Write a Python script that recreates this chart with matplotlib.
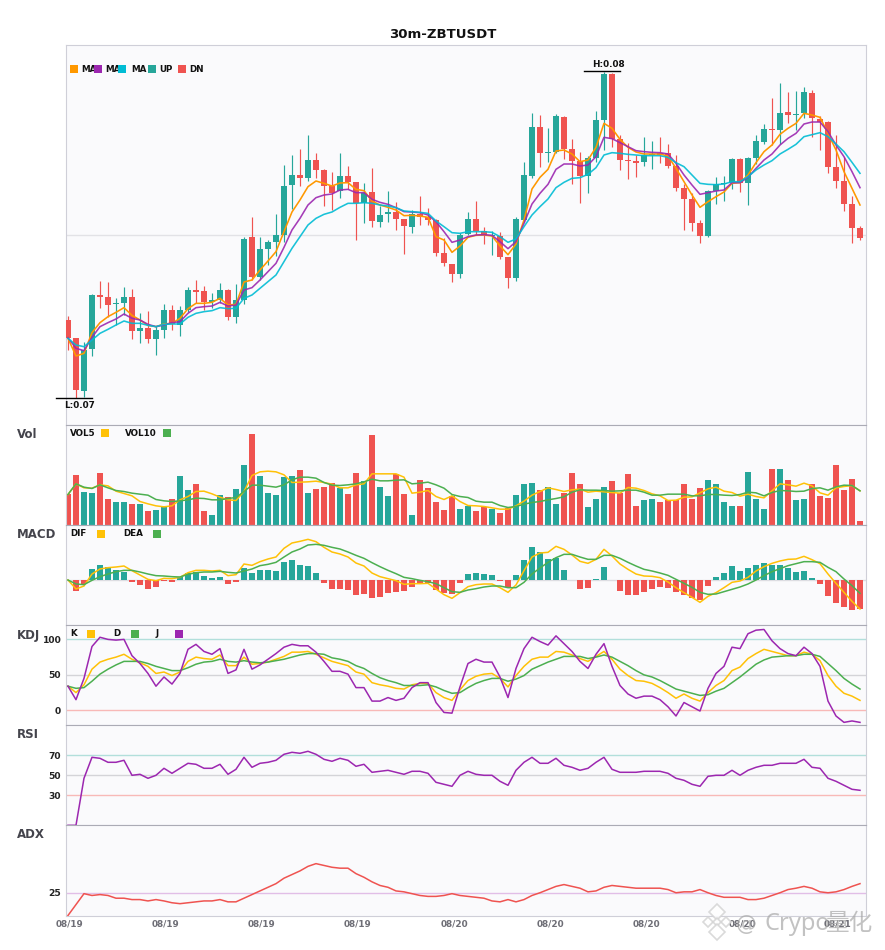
import matplotlib
matplotlib.use('Agg')
import matplotlib.pyplot as plt
from matplotlib.patches import Rectangle, Polygon
import numpy as np

# prices are kept in points above 0.07, 975 points = 0.01
opens = [234,180,22,148,309,303,282,285,303,201,210,177,204,264,219,264,324,321,288,294,324,243,294,483,363,447,468,489,639,669,660,714,684,636,621,666,648,585,618,528,552,558,537,513,552,543,534,435,402,372,
         492,537,501,486,486,423,360,534,666,813,735,738,843,747,711,666,720,834,972,777,714,711,708,729,735,735,696,630,597,525,486,621,642,645,717,645,720,768,807,804,858,849,855,915,837,828,693,651,582,510]
closes = [181,25,144,309,303,279,285,303,201,210,177,204,264,222,264,324,318,288,294,324,243,294,477,363,447,468,489,636,669,660,714,684,636,614,666,648,585,615,531,549,558,537,516,552,543,534,435,405,372,489,
          537,501,489,489,423,360,537,669,813,735,738,846,747,711,666,720,834,972,777,714,712,705,729,732,729,696,630,597,525,486,621,642,645,717,645,720,771,807,804,855,849,852,918,840,828,693,651,582,510,480]
highs = [246,180,167,312,351,348,300,333,327,255,261,216,282,278,276,333,354,336,315,345,327,342,483,543,483,474,552,699,729,747,789,735,687,678,735,696,648,645,690,576,621,588,537,564,606,570,537,480,402,494,
         558,591,513,501,498,423,543,708,855,849,810,852,846,777,738,726,861,978,975,789,765,729,783,771,783,762,729,642,615,534,624,663,666,720,720,723,789,822,900,945,918,921,933,924,846,831,789,723,606,516]
lows = [144,-1,4,127,271,244,219,249,177,166,166,130,181,205,187,259,284,264,269,284,234,225,282,354,354,399,426,468,567,636,651,660,576,564,600,627,474,525,513,513,528,504,432,495,519,519,426,396,348,360,
        489,489,462,429,417,330,351,528,660,693,708,735,717,642,585,615,708,744,753,684,657,663,696,687,705,690,621,504,501,465,483,582,591,627,618,579,702,762,759,762,825,804,840,783,744,675,630,561,465,474]

ma_fast = [179,126,134,196,226,244,257,271,248,234,218,214,222,224,239,268,284,284,287,299,279,281,348,354,384,411,439,499,558,594,634,651,644,636,645,646,626,622,591,579,572,564,547,548,546,542,484,474,437,456,482,
           488,489,486,456,430,462,534,627,662,686,741,744,732,709,714,752,824,809,776,752,738,732,732,732,726,689,649,609,572,589,604,618,644,646,669,706,739,759,791,809,824,854,849,842,794,744,679,629,579]
ma_mid = [181,149,142,182,214,226,237,252,239,234,221,214,219,226,229,254,271,274,276,287,276,279,324,331,354,379,404,452,504,539,579,601,609,612,624,626,616,616,596,587,581,571,559,558,556,549,529,499,467,474,484,
          489,490,488,469,448,469,524,582,614,641,686,702,702,696,699,724,782,778,766,754,742,739,737,736,732,704,669,639,611,616,621,624,646,646,662,689,714,732,759,779,794,822,828,828,799,759,724,679,631]
ma_slow = [179,159,154,174,194,206,219,231,224,224,218,214,221,222,222,242,254,259,262,271,268,269,299,309,329,349,369,409,449,484,519,539,551,558,572,584,584,586,584,579,576,571,561,559,557,554,531,514,496,494,499,
           499,499,497,484,467,477,514,549,574,597,631,647,659,661,671,691,729,736,734,731,729,727,727,727,722,706,694,669,644,641,640,642,649,649,664,684,699,712,732,746,761,784,790,796,784,762,739,707,674]

volume = [92,149,98,95,155,77,68,68,62,62,41,44,56,77,146,104,122,41,29,89,83,107,179,272,146,95,89,143,146,164,95,107,113,125,110,92,155,131,269,113,86,151,92,29,134,110,68,44,86,
          47,56,41,53,47,35,50,89,122,125,104,113,62,95,155,122,53,77,113,131,95,152,56,74,77,68,74,74,122,77,110,134,122,68,56,56,158,77,47,167,167,134,74,77,122,86,80,179,104,137,11]
vol5 = [90,122,110,109,119,116,100,93,86,69,62,56,53,56,74,84,99,100,92,82,74,72,99,147,158,160,158,149,126,127,128,130,126,121,110,110,119,122,152,152,152,152,142,94,97,102,84,75,86,
        69,57,56,54,50,46,46,56,70,88,99,110,105,99,104,106,97,100,98,96,94,111,109,102,92,86,72,73,82,83,95,107,112,100,96,85,91,84,80,101,122,119,115,124,116,95,88,110,114,117,101]
vol10 = [90,122,112,108,119,110,102,99,94,91,88,75,71,69,71,74,79,78,74,74,78,81,99,118,118,115,112,119,134,142,142,139,126,118,117,119,122,128,136,131,131,133,134,122,124,127,119,109,90,
         84,81,70,67,67,57,51,54,61,66,69,74,78,83,97,104,103,103,102,100,101,103,103,97,88,88,91,91,91,86,86,90,90,88,87,90,97,95,86,96,102,101,99,100,108,110,103,113,118,117,101]

macd_hist = [0,-33,-12,33,45,39,30,24,-6,-15,-27,-21,-3,-6,9,21,24,12,6,9,-12,-6,36,21,30,30,27,54,60,45,42,21,-9,-27,-27,-30,-45,-42,-54,-51,-39,-36,-33,-21,-9,-9,-30,-39,-42,
             -9,18,21,18,15,-3,-21,15,60,99,84,63,66,30,0,-27,-24,3,39,0,-33,-45,-45,-36,-27,-21,-24,-36,-45,-54,-60,-18,9,21,42,27,36,45,51,45,45,36,24,27,6,-12,-48,-69,-81,-90,-87]
dif = [0,-27,-18,18,33,37,39,42,28,15,2,-2,5,4,8,22,29,29,27,29,13,16,48,44,55,63,69,95,111,116,122,115,98,84,78,69,51,42,21,10,4,-2,-13,-11,-11,-10,-27,-44,-55,
       -38,-20,-14,-12,-12,-23,-37,-15,28,69,81,83,101,92,75,56,50,62,92,72,48,32,18,12,11,7,-6,-23,-38,-52,-67,-49,-38,-23,-7,-3,8,27,40,50,57,62,63,71,61,49,18,-10,-37,-64,-87]
dea = [0,-12,-14,-1,10,18,25,29,29,24,18,13,12,10,9,17,22,24,24,26,23,21,27,33,43,47,53,69,84,93,105,107,104,98,93,84,74,65,52,40,29,19,8,4,-1,-5,-11,-23,-35,
       -37,-30,-26,-21,-18,-18,-23,-23,-7,18,36,53,67,77,77,69,62,62,74,74,65,53,42,32,27,21,14,2,-10,-22,-37,-43,-42,-35,-28,-21,-12,0,13,25,34,43,49,55,55,53,38,25,3,-17,-40]

kdj_k = [34,25,36,58,68,72,75,79,72,67,62,52,54,49,54,69,75,73,72,78,63,63,75,65,66,68,72,76,82,82,83,79,74,69,66,63,54,51,39,36,34,31,30,36,38,38,25,18,14,
         29,42,48,51,52,45,33,49,62,72,75,75,83,82,78,73,69,76,83,72,58,49,42,41,38,32,25,17,23,17,13,25,35,42,56,61,73,80,86,83,80,77,77,82,79,70,49,34,24,20,14]
kdj_d = [34,31,32,41,51,58,64,69,69,69,66,62,59,56,56,60,65,68,69,72,69,68,70,68,67,68,70,72,75,78,80,80,79,74,72,69,63,59,52,46,42,39,35,35,35,36,33,28,24,
         25,32,38,42,45,45,41,44,49,58,63,68,72,76,76,76,73,75,78,75,69,63,56,50,47,42,36,30,27,24,21,22,27,31,39,47,56,65,71,75,76,77,77,79,79,76,66,56,45,37,30]
kdj_j = [34,15,45,90,103,100,99,100,77,66,52,34,47,37,52,86,93,83,79,87,52,57,86,58,64,72,80,89,93,91,91,82,69,55,55,51,32,32,13,13,18,14,17,32,39,39,11,-3,-4,
         33,66,72,68,68,47,18,59,87,103,97,92,105,94,83,69,59,79,94,62,35,23,17,20,20,15,5,-8,11,5,-1,31,52,62,89,87,108,113,114,98,87,80,77,89,80,62,13,-8,-17,-15,-17]

rsi = [0,0,47,68,67,63,63,65,50,51,47,50,57,52,57,62,61,57,57,61,51,56,68,58,62,63,65,71,73,72,74,71,66,64,67,65,59,61,53,54,55,53,51,54,54,52,43,41,39,
       50,54,51,50,50,44,40,55,63,68,62,62,67,60,58,55,57,63,68,56,53,53,53,54,54,54,52,47,45,41,39,49,50,50,55,50,55,58,60,60,62,62,62,66,58,57,47,44,40,36,35]

adx = [0,12,24,22,23,22,19,19,17.5,17.5,16,17.5,16,14,13,14,15,16,16,17.5,15,15,19,23,27,31,35,41,45,49,54,57,55,53,52,52,46,42,37,33,31,27,26,24,22,21,21,22,24,
       22,21,20,19,16,15,17.5,15,17.5,22,25,28.5,32,34,32,30,26,27,31,33,32,31,30,30,30,30,28.5,25,26,26,28.5,25,22,20,20,20,17.5,17.5,19,22,25,28.5,30,32,30,26,25,26,28.5,32,35]

time_labels = ['08/19', '08/19', '08/19', '08/19', '08/20', '08/20', '08/20', '08/20', '08/21']

UP = '#26A69A'
DN = '#EF5350'
ORANGE = '#FF9800'
PURPLE = '#9C27B0'
CYAN = '#00BCD4'
YELLOW = '#FFC107'
GREEN = '#4CAF50'
BG = '#FAFAFC'
W, H = 885, 950

fig = plt.figure(figsize=(W / 100, H / 100), dpi=100, facecolor='white')


def make_panel(top, bottom, ylim, top_color='#ABABB5'):
    ax = fig.add_axes([65.5 / W, 1 - bottom / H, 800.5 / W, (bottom - top) / H])
    ax.set_facecolor(BG)
    ax.set_xlim(-0.31, 99.75)
    ax.set_ylim(*ylim)
    ax.set_xticks([])
    ax.set_yticks([])
    for side in ('left', 'right', 'bottom'):
        ax.spines[side].set_color('#CFCFD8')
    ax.spines['top'].set_color(top_color)
    return ax


def ref_line(ax, y, color):
    ax.axhline(y, color=color, lw=1.0, zorder=1)


def yticks(ax, ticks):
    ax.set_yticks(ticks)
    ax.set_yticklabels([str(t) for t in ticks], fontsize=6.6, fontweight='bold', color='#222222')
    ax.tick_params(axis='y', length=0, pad=3)


def legend_item(x, y, label, color=None, square_x=None):
    # x, y in picture pixels
    fig.text(x / W, 1 - y / H, label, fontsize=6.3, fontweight='bold', color='#111111',
             ha='left', va='center', zorder=5)
    if square_x is not None:
        fig.add_artist(Rectangle((square_x / W, 1 - (y + 4) / H), 8 / W, 8 / H, color=color,
                                 transform=fig.transFigure, zorder=6, lw=0))


x = np.arange(len(opens))
o, c, h, l = map(np.array, (opens, closes, highs, lows))
is_up = np.array([(cl > op) for op, cl in zip(o, c)])
colors = np.where(is_up, UP, DN)

# main candles
ax_main = make_panel(44.5, 424.5, (-79.5, 1060.5), top_color='#CFCFD8')
ref_line(ax_main, 488, '#E2E2E6')
wicks = ax_main.vlines(x, l, h, colors=colors, lw=0.85, zorder=2)
wicks.set_snap(True)
ax_main.bar(x, np.maximum(np.abs(c - o), 2), bottom=np.minimum(o, c), width=0.75, color=colors, zorder=3)
ax_main.plot(x, ma_fast, color=ORANGE, lw=1.15, zorder=4)
ax_main.plot(x, ma_mid, color=PURPLE, lw=1.15, alpha=0.9, zorder=4)
ax_main.plot(x, ma_slow, color=CYAN, lw=1.15, alpha=0.9, zorder=4)

hi = int(np.argmax(h))
lo = int(np.argmin(l))
ax_main.plot([hi - 2.5, hi + 2], [h[hi] + 2] * 2, color='black', lw=1.0, zorder=5)
ax_main.text(hi + 0.55, h[hi] + 8, 'H:0.08', fontsize=6.4, fontweight='bold', ha='center', va='bottom', color='#111111')
ax_main.plot([lo - 2.5, lo + 2], [l[lo]] * 2, color='black', lw=1.0, zorder=5, clip_on=False)
ax_main.text(lo + 0.45, l[lo] - 9, 'L:0.07', fontsize=6.4, fontweight='bold', ha='center', va='top', color='#111111')

# volume
ax_vol = make_panel(424.5, 524.5, (0, 300))
ax_vol.bar(x, volume, width=0.75, color=colors, zorder=2)
ax_vol.plot(x, vol5, color=YELLOW, lw=1.1, zorder=3)
ax_vol.plot(x, vol10, color=GREEN, lw=1.1, zorder=3)

# macd
ax_macd = make_panel(524.5, 624.5, (-133.5, 166.5))
hist = np.array(macd_hist)
ref_line(ax_macd, 0, '#DDDDE2')
ax_macd.bar(x, hist, width=0.75, color=np.where(hist >= 0, UP, DN), zorder=2)
ax_macd.plot(x, dif, color=YELLOW, lw=1.1, zorder=3)
ax_macd.plot(x, dea, color=GREEN, lw=1.1, zorder=3)

# kdj
ax_kdj = make_panel(624.5, 724.5, (-20, 121))
ref_line(ax_kdj, 100, '#B2DFDB')
ref_line(ax_kdj, 50, '#D4D4D8')
ref_line(ax_kdj, 0, '#F8B9B7')
ax_kdj.plot(x, kdj_k, color=YELLOW, lw=1.1, zorder=3)
ax_kdj.plot(x, kdj_d, color=GREEN, lw=1.1, zorder=3)
ax_kdj.plot(x, kdj_j, color=PURPLE, lw=1.1, zorder=4)
yticks(ax_kdj, [0, 50, 100])

# rsi
ax_rsi = make_panel(724.5, 824.5, (0.8, 100.8))
ref_line(ax_rsi, 70, '#B2DFDB')
ref_line(ax_rsi, 50, '#D4D4D8')
ref_line(ax_rsi, 30, '#F8B9B7')
ax_rsi.plot(x, rsi, color=PURPLE, lw=1.1, zorder=3)
yticks(ax_rsi, [30, 50, 70])

# adx
ax_adx = make_panel(824.5, 915.5, (0, 100))
ref_line(ax_adx, 25, '#E1BEE7')
ax_adx.plot(x, adx, color=DN, lw=1.1, zorder=3)
yticks(ax_adx, [25])
ax_adx.set_xticks(x[::12] + 0.25)
ax_adx.set_xticklabels(time_labels, fontsize=6.4, fontweight='bold', color='#6E6E76')
ax_adx.tick_params(axis='x', length=0, pad=3)

fig.text(443 / W, 1 - 34 / H, '30m-ZBTUSDT', fontsize=9.5, fontweight='bold', ha='center', va='center', color='#111111')
for name, y in zip(['Vol', 'MACD', 'KDJ', 'RSI', 'ADX'], [435, 535, 635, 735, 835]):
    fig.text(17 / W, 1 - y / H, name, fontsize=8.5, fontweight='bold', ha='left', va='center', color='#44444C')

legend_item(81, 69, 'MA', ORANGE, 70)
legend_item(105, 69, 'MA', PURPLE, 94)
legend_item(131, 69, 'MA', CYAN, 118)
legend_item(159, 69, 'UP', UP, 148)
legend_item(189, 69, 'DN', DN, 178)
legend_item(70, 433, 'VOL5', YELLOW, 101)
legend_item(125, 433, 'VOL10', GREEN, 163)
legend_item(70, 534, 'DIF', YELLOW, 97)
legend_item(123, 534, 'DEA', GREEN, 153)
legend_item(70, 634, 'K', YELLOW, 87)
legend_item(113, 634, 'D', GREEN, 131)
legend_item(156, 634, 'J', PURPLE, 175)

# watermark
for cx, cy, r in [(717, 912, 8), (708, 922, 5), (726, 922, 5), (717, 922, 4), (717, 932, 8)]:
    pts = [((cx - r) / W, 1 - cy / H), (cx / W, 1 - (cy - r) / H), ((cx + r) / W, 1 - cy / H), (cx / W, 1 - (cy + r) / H)]
    fig.add_artist(Polygon(pts, closed=True, transform=fig.transFigure, facecolor='white',
                           edgecolor='#D4D4D4', lw=1.2, alpha=0.85, zorder=7))
fig.text(736 / W, 1 - 924 / H, '@', fontsize=15, color='#A8A8A8', alpha=0.7, ha='left', va='center', zorder=8)
fig.text(764 / W, 1 - 924 / H, 'Crypo', fontsize=17, color='#A8A8A8', alpha=0.7, ha='left', va='center', zorder=8,
         family='Noto Sans')
fig.text(826 / W, 1 - 924 / H, '量化', fontsize=17, color='#A8A8A8', alpha=0.7, ha='left', va='center', zorder=8,
         family=['Noto Sans CJK SC', 'DejaVu Sans'])

fig.savefig('out.png', dpi=100, facecolor='white')
